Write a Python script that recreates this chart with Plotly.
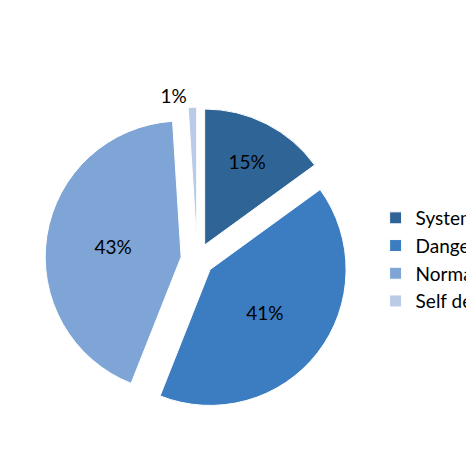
import plotly.graph_objects as go

labels = ["System", "Dange", "Norma", "Self de"]
values = [15, 41, 43, 1]
colors = ["#2F6496", "#3C7DC2", "#7FA5D6", "#B9CBE6"]

fig = go.Figure(go.Pie(
    labels=labels, values=values, sort=False, direction="clockwise", rotation=0,
    marker=dict(colors=colors, line=dict(color="white", width=1)),
    pull=[0.12, 0.12, 0.12, 0.12],
    texttemplate="%{percent:.0%}", textposition=["inside", "inside", "inside", "outside"],
    textfont=dict(size=19, color="black"),
    domain=dict(x=[0, 0.7], y=[0.02, 0.98]),
))
fig.update_layout(
    width=474, height=474, paper_bgcolor="white",
    margin=dict(l=0, r=0, t=20, b=20),
    font=dict(family="Lato, Open Sans, sans-serif", size=19, color="black"),
    legend=dict(x=0.76, y=0.5, yanchor="middle", tracegroupgap=30,
                font=dict(size=19)),
)
fig.write_html("out.html")
